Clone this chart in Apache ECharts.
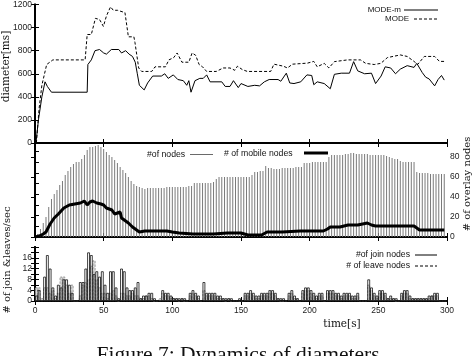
<!DOCTYPE html>
<html><head><meta charset="utf-8">
<script src="https://cdn.jsdelivr.net/npm/echarts@6/dist/echarts.min.js"></script>
<style>html,body{margin:0;padding:0;background:#fff}#c{width:474px;height:356px}</style>
</head><body><div id="c"></div>
<script>
// ---- top panel: diameter [ms]
const modeMTime = [0.7,2.5,5,7.3,9,12,38,38.5,41,43.7,47,50,52,55.6,61,63,66,68.5,71,73,74.5,76,79.5,82,85.7,92,94.5,97,100.7,104,108,110.5,112,113.6,116.5,120,122.5,125,127.5,136,138.5,142,144.5,148,150,155,160,163.5,167,170.5,177,179,183,185.5,188.6,193.5,198,201.5,203,205.5,210.6,215,218,223,229,232,235,240,245,248,252,255,259,262.5,266,271,276,278,282,284.5,287,291,293.5,296,298];
const modeMValue = [0,200,400,530,490,440,440,680,720,800,810,780,770,810,810,780,800,770,750,700,600,500,460,520,580,580,600,560,590,550,540,500,540,440,540,560,560,590,530,530,490,490,540,480,515,490,500,495,530,550,550,535,605,520,515,530,590,585,505,530,515,470,595,605,605,705,625,600,605,515,580,660,650,600,640,670,655,690,610,570,555,495,550,585,545];
const modeTime = [1,3,5,8.5,13,36.5,38,41,44,47,49.8,52,55,57,60,65.5,68,72,72.8,75.5,77.7,85,87.4,95,97.5,101,103.5,107,112,114.4,117,119.5,122,125,132,137,142,145.5,147.4,151,154.6,171.6,174,181,183.8,187.5,198.4,203,205.5,210.6,214,218,227.5,237,240.8,247,251.8,256.6,266,271,276,278.6,283.5,291,294.5,298];
const modeValue = [0,300,500,680,720,720,940,940,1080,1070,1010,1100,1180,1150,1150,1130,920,920,870,650,620,620,660,660,720,740,780,700,700,780,760,680,660,620,620,650,650,630,665,636,620,620,683,665,650,683,692,707,660,690,650,705,720,720,690,680,690,740,763,750,707,680,750,750,707,707];

// ---- middle panel: # of overlay nodes (impulses every 2 s) and # of mobile nodes
const nodeStep = 2;
const nodesValue = [
 0,3,8,14,20,30,38,43,47,52,
 56,62,66,70,73,75,75,78,82,87,
 90,90,91,92,90,88,85,82,80,77,
 74,70,67,64,60,56,53,51,50,49,
 48,49,49,49,49,49,49,49,50,50,
 50,50,50,50,50,50,51,51,54,54,
 54,54,54,54,54,55,58,60,60,60,
 60,60,60,60,60,60,60,60,60,62,
 65,65,66,66,71,69,69,68,68,68,
 69,69,69,69,69,70,70,70,74,74,
 74,75,75,75,75,75,75,80,82,82,
 82,82,82,83,83,84,84,83,83,83,
 83,83,82,82,82,82,82,82,81,80,
 79,78,78,76,75,75,75,75,75,65,
 64,64,64,64,63,63,63,63,63,63];
const mobileTime = [0,3,6,8,11,14,17,21,25,29,33,36,38,40,42,45,48,50,52,54,56,58,60,62,63,66,68,71,74,76,80,90,96,100,105,115,130,140,150,155,165,169,180,193,210,213,215,222,228,235,242,245,248,260,276,280,298];
const mobileValue = [0,1,3,5,13,19,23,29,32,33,34,36,32,35,36,34,33,32,29,28,27,23,24,25,19,16,14,10,7,5,6,6,6,5,4,3,3,4,4,2,2,5,5,6,6,8,10,10,12,12,14,12,11,11,11,7,7];

// ---- bottom panel: join / leave per 2 s bin
const binStep = 2;
const joinValue = [
 2,4,0,9,17,12,5,2,6,5,
 8,8,6,3,0,0,7,7,12,18,
 17,10,11,9,11,6,3,11,11,5,
 1,12,11,5,4,4,5,7,1,2,
 2,3,3,1,0,0,4,3,3,2,
 1,1,1,1,1,0,3,4,3,2,
 0,7,3,3,3,3,2,2,1,1,
 1,1,0,0,1,0,3,3,4,3,
 2,2,3,3,3,4,4,3,1,1,
 1,0,3,4,2,1,0,4,5,5,
 4,3,2,3,3,0,4,4,4,3,
 3,2,3,3,3,2,2,3,0,0,
 0,8,5,3,2,4,4,3,1,2,
 1,1,0,3,4,4,2,1,1,1,
 1,1,1,2,2,3,3,0,0,0];
const leaveValue = [
 5,5,1,5,5,3,4,1,3,9,
 9,6,3,6,0,0,2,6,7,8,
 13,15,8,5,3,3,1,3,4,2,
 0,3,3,2,2,3,2,2,1,1,
 2,2,1,0,0,1,3,2,2,1,
 1,1,0,1,0,0,2,3,2,1,
 0,4,2,2,2,2,1,1,1,0,
 1,0,0,0,0,0,2,2,3,2,
 1,1,2,2,2,3,3,2,1,0,
 0,0,2,3,1,1,0,3,4,4,
 3,2,1,2,2,0,3,3,3,2,
 2,1,2,2,2,1,1,2,0,0,
 0,6,4,2,1,3,3,2,1,1,
 1,0,0,2,3,3,1,1,1,1,
 1,1,1,1,2,2,2,0,0,0];

const chart = echarts.init(document.getElementById('c'), null, {renderer:'canvas'});
const LBL = {fontFamily:'Liberation Sans', fontSize:8.5, color:'#222'};
const line2 = {show:true, lineStyle:{color:'#000', width:2}};
const plain = v => String(v);
function xa(grid, pos, labels){
  return {type:'value', gridIndex:grid, position:pos, min:0, max:300, interval:50,
    axisLine:line2, axisTick:{show:true, inside:true, length:4, lineStyle:{color:'#000'}},
    axisLabel:Object.assign({show:labels, margin:5, formatter:plain}, LBL), splitLine:{show:false}};
}
function ya(grid, pos, min, max, interval, labels, fmt){
  return {type:'value', gridIndex:grid, position:pos, min:min, max:max, interval:interval,
    axisLine:line2, axisTick:{show:true, inside:true, length:4, lineStyle:{color:'#000'}},
    axisLabel:Object.assign({show:labels, margin:3, formatter:fmt || plain}, LBL), splitLine:{show:false}};
}
const pairs = (ts, vs) => ts.map((t,i)=>[t, vs[i]]);
const serif = 'DejaVu Serif';

chart.setOption({
  animation:false,
  backgroundColor:'#fff',
  grid:[
    {left:35, top:2, width:412, height:141},
    {left:35, top:143, width:412, height:94},
    {left:35, top:247, width:412, height:54}
  ],
  xAxis:[xa(0,'bottom',false), xa(0,'top',false), xa(1,'bottom',false), xa(1,'top',false), xa(2,'bottom',true), xa(2,'top',false)],
  yAxis:[
    ya(0,'left',0,1200,200,true),
    ya(0,'right',0,1200,200,false),
    ya(1,'left',0,8.8,1,false),
    ya(1,'right',0,94,20,true, v => (v % 20 === 0 ? String(v) : '')),
    ya(2,'left',0,20,2,true, v => (v % 4 === 0 && v < 20 ? String(v) : '')),
    ya(2,'right',0,20,2,false)
  ],
  series:[
    {type:'line', name:'MODE-m', xAxisIndex:0, yAxisIndex:0, data:pairs(modeMTime, modeMValue), showSymbol:false, symbol:'none', lineStyle:{color:'#000', width:1}},
    {type:'line', name:'MODE', xAxisIndex:0, yAxisIndex:0, data:pairs(modeTime, modeValue), showSymbol:false, symbol:'none', lineStyle:{color:'#000', width:1, type:[3,2]}},
    {type:'bar', name:'#of nodes', xAxisIndex:2, yAxisIndex:3, data:nodesValue.map((v,i)=>[i*nodeStep, v]), barWidth:1, itemStyle:{color:'#7a7a7a'}},
    {type:'line', name:'# of mobile nodes', xAxisIndex:2, yAxisIndex:3, data:pairs(mobileTime, mobileValue), showSymbol:false, symbol:'none', lineStyle:{color:'#000', width:3}, z:5},
    {type:'bar', name:'# of leave nodes', xAxisIndex:4, yAxisIndex:4, data:leaveValue.map((v,i)=>[i*binStep+binStep/2, v]), barWidth:2.75, itemStyle:{color:'#dcdcdc', borderColor:'#666', borderWidth:0.6, borderType:'dashed'}},
    {type:'bar', name:'#of join nodes', xAxisIndex:4, yAxisIndex:4, data:joinValue.map((v,i)=>[i*binStep+binStep/2, v]), barWidth:2.75, barGap:'-100%', itemStyle:{color:'rgba(255,255,255,0)', borderColor:'#111', borderWidth:0.8}}
  ],
  graphic:[
    {type:'text', x:6, y:66.5, rotation:Math.PI/2, style:{text:'diameter[ms]', font:'10.5px "'+serif+'"', fill:'#111', align:'center', verticalAlign:'middle'}},
    {type:'text', x:7, y:260, rotation:Math.PI/2, style:{text:'# of join &leaves/sec', font:'10px "'+serif+'"', fill:'#111', align:'center', verticalAlign:'middle'}},
    {type:'text', x:467, y:184, rotation:Math.PI/2, style:{text:'# of overlay nodes', font:'10px "'+serif+'"', fill:'#111', align:'center', verticalAlign:'middle'}},
    {type:'text', x:342, y:324, style:{text:'time[s]', font:'10.5px "'+serif+'"', fill:'#111', align:'center', verticalAlign:'middle'}},
    {type:'text', x:238, y:355, style:{text:'Figure 7: Dynamics of diameters', font:'21.5px "Liberation Serif"', fill:'#111', align:'center', verticalAlign:'middle'}},
    {type:'text', x:401, y:10, style:{text:'MODE-m', font:'8px "Liberation Sans"', fill:'#111', align:'right', verticalAlign:'middle'}},
    {type:'line', shape:{x1:404, y1:10, x2:438, y2:10}, style:{stroke:'#000', lineWidth:1}},
    {type:'text', x:409, y:19, style:{text:'MODE', font:'8px "Liberation Sans"', fill:'#111', align:'right', verticalAlign:'middle'}},
    {type:'line', shape:{x1:414, y1:19, x2:438, y2:19}, style:{stroke:'#000', lineWidth:1, lineDash:[3,2]}},
    {type:'text', x:147, y:155, style:{text:'#of nodes', font:'8.7px "Liberation Sans"', fill:'#111', align:'left', verticalAlign:'middle'}},
    {type:'line', shape:{x1:190, y1:154.5, x2:213, y2:154.5}, style:{stroke:'#6a6a6a', lineWidth:1}},
    {type:'text', x:224, y:154, style:{text:'# of mobile nodes', font:'8.7px "Liberation Sans"', fill:'#111', align:'left', verticalAlign:'middle'}},
    {type:'line', shape:{x1:304, y1:153, x2:328, y2:153}, style:{stroke:'#000', lineWidth:3}},
    {type:'text', x:410, y:255, style:{text:'#of join nodes', font:'8.7px "Liberation Sans"', fill:'#111', align:'right', verticalAlign:'middle'}},
    {type:'line', shape:{x1:415, y1:255, x2:437, y2:255}, style:{stroke:'#000', lineWidth:1}},
    {type:'text', x:410, y:266, style:{text:'# of leave nodes', font:'8.7px "Liberation Sans"', fill:'#111', align:'right', verticalAlign:'middle'}},
    {type:'line', shape:{x1:415, y1:266, x2:437, y2:266}, style:{stroke:'#000', lineWidth:1, lineDash:[3,2]}}
  ]
});
</script></body></html>
